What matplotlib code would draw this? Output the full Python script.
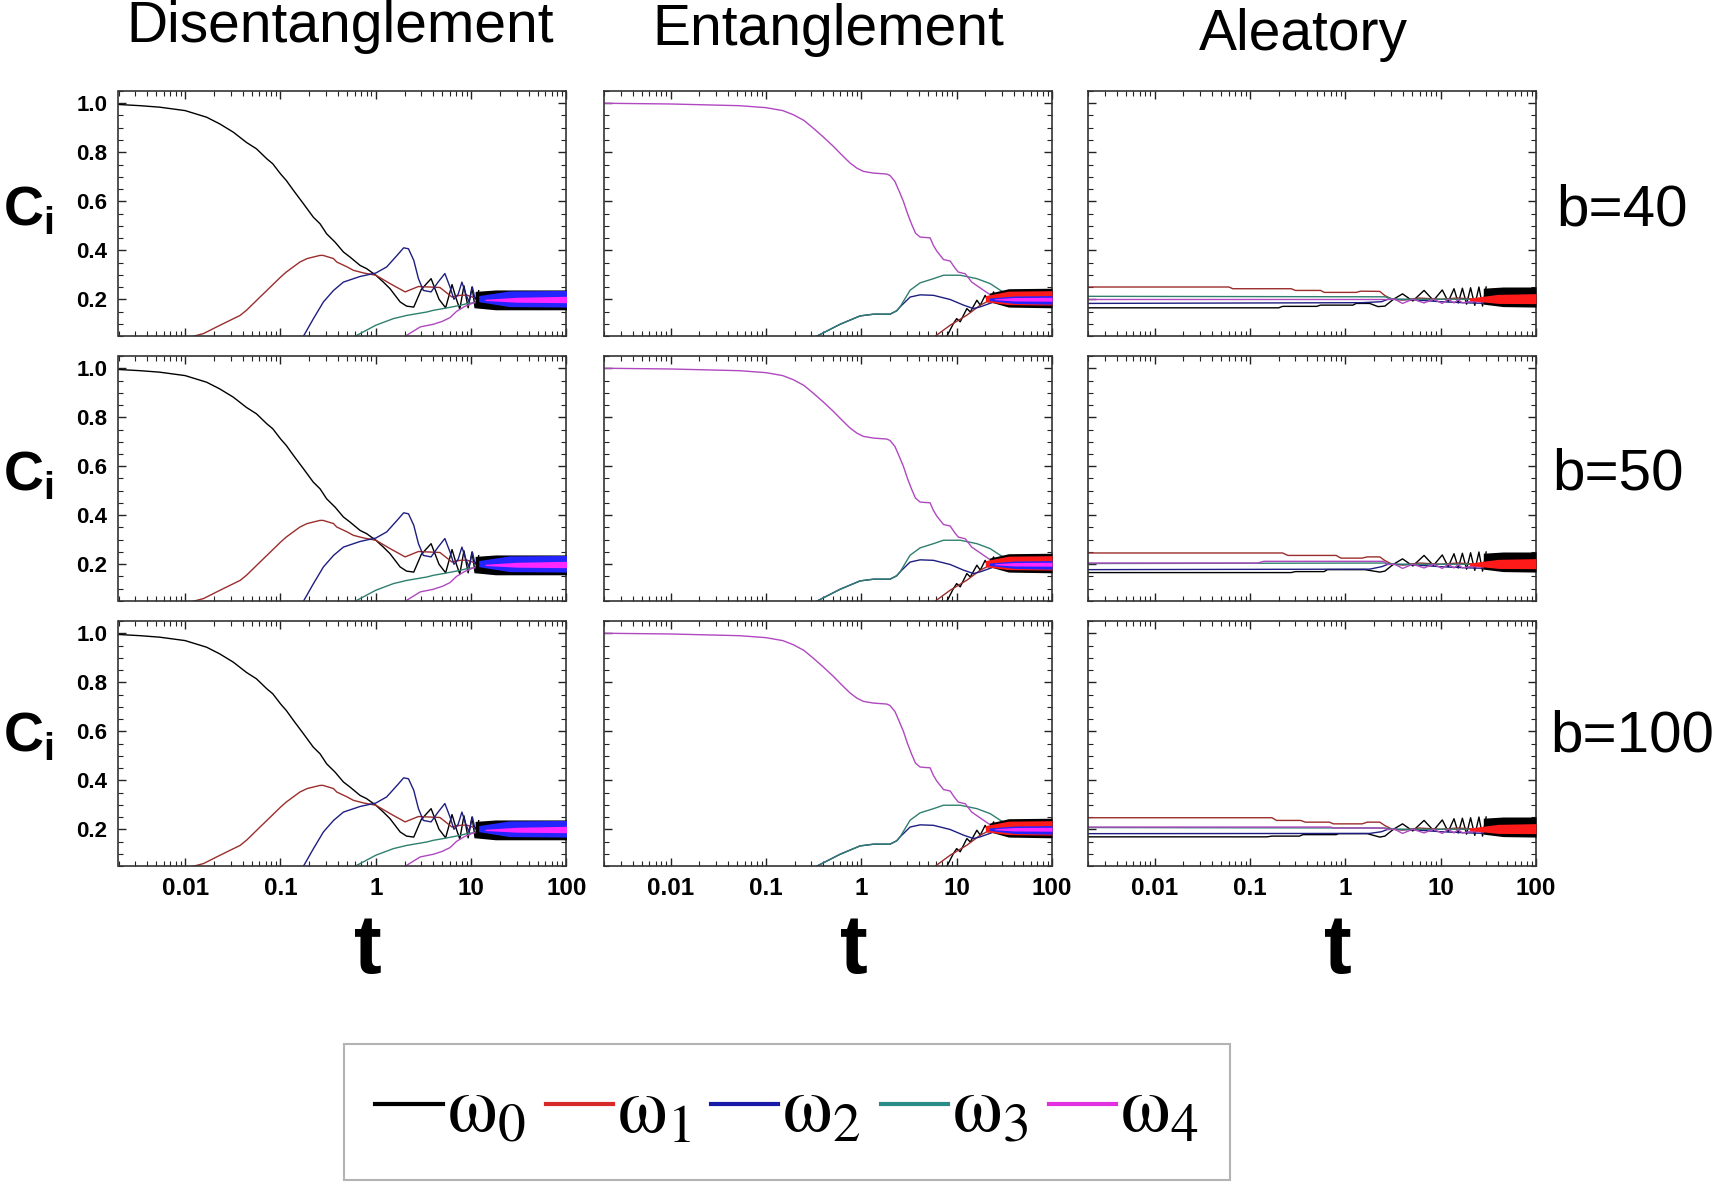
import numpy as np
import matplotlib.pyplot as plt
from matplotlib.lines import Line2D
from matplotlib.font_manager import FontProperties
from matplotlib.ticker import FixedLocator, FixedFormatter, LogLocator, MultipleLocator, NullFormatter

plt.rcParams['font.family'] = ['Liberation Sans', 'DejaVu Sans']
plt.rcParams['mathtext.fontset'] = 'custom'
plt.rcParams['mathtext.bf'] = 'Liberation Sans:bold'
plt.rcParams['mathtext.rm'] = 'Liberation Sans'

columns = ['Disentanglement', 'Entanglement', 'Aleatory']
row_labels = ['b=40', 'b=50', 'b=100']
names = [r'$\mathrm{\omega}_0$', r'$\mathrm{\omega}_1$', r'$\mathrm{\omega}_2$',
         r'$\mathrm{\omega}_3$', r'$\mathrm{\omega}_4$']
line_colors = ['#000000', '#9b2d2d', '#1e1e82', '#2f7f6f', '#b048c0']
band_colors = ['#000000', '#ff1a1a', '#2424ff', '#2f7f6f', '#ff28ff']
legend_colors = ['#000000', '#d62a2a', '#1a1aa8', '#2a8c84', '#e030e0']
xtick_vals = [0.01, 0.1, 1, 10, 100]
xtick_labels = ['0.01', '0.1', '1', '10', '100']
ytick_vals = [0.2, 0.4, 0.6, 0.8, 1.0]

# ---- Disentanglement (same for all b) ----
dis_t0 = [0.002, 0.0034, 0.0054, 0.01, 0.0168, 0.023, 0.032, 0.044, 0.056, 0.072, 0.083, 0.1,
          0.115, 0.137, 0.174, 0.221, 0.26, 0.305, 0.374, 0.457, 0.537, 0.684, 0.8, 1.0, 1.2,
          1.41, 1.6, 1.8, 2.1, 2.5, 3.0, 3.8, 4.6, 5.4, 6.3, 7.0, 7.6, 8.4, 9.3, 10.2, 11.0, 12.0]
dis_c0 = [0.995, 0.99, 0.984, 0.97, 0.943, 0.916, 0.882, 0.84, 0.814, 0.773, 0.753, 0.712,
          0.685, 0.644, 0.59, 0.535, 0.508, 0.467, 0.433, 0.393, 0.372, 0.338, 0.325, 0.298, 0.27,
          0.243, 0.215, 0.189, 0.172, 0.168, 0.24, 0.284, 0.2, 0.165, 0.26, 0.2, 0.16, 0.255,
          0.165, 0.25, 0.165, 0.235]
dis_t1 = [0.0122, 0.0156, 0.0214, 0.0272, 0.0377, 0.044, 0.061, 0.072, 0.1, 0.115, 0.16, 0.19,
          0.26, 0.28, 0.36, 0.389, 0.5, 0.582, 0.75, 1.0, 1.41, 2.03, 2.8, 3.6, 4.7, 6.3, 7.65,
          9.0, 12.0, 30, 100]
dis_c1 = [0.049, 0.06, 0.087, 0.107, 0.134, 0.155, 0.209, 0.236, 0.29, 0.311, 0.352, 0.366,
          0.379, 0.379, 0.366, 0.352, 0.332, 0.318, 0.307, 0.298, 0.264, 0.23, 0.252, 0.25,
          0.248, 0.209, 0.216, 0.217, 0.2, 0.2, 0.2]
dis_t2 = [0.174, 0.221, 0.282, 0.36, 0.457, 0.684, 1.0, 1.3, 1.67, 1.96, 2.2, 2.5, 2.8, 3.15,
          3.8, 4.5, 5.3, 6.0, 6.6, 7.3, 8.0, 8.8, 9.5, 10.3, 11.0, 12.0]
dis_c2 = [0.049, 0.12, 0.189, 0.236, 0.27, 0.293, 0.307, 0.332, 0.379, 0.41, 0.406, 0.359,
          0.284, 0.236, 0.23, 0.27, 0.305, 0.25, 0.2, 0.22, 0.27, 0.22, 0.19, 0.25, 0.2, 0.225]
dis_t3 = [0.607, 1.0, 1.53, 2.11, 3.43, 4.03, 5.12, 7.65, 9.0, 12.4, 20, 100]
dis_c3 = [0.049, 0.094, 0.121, 0.134, 0.148, 0.155, 0.162, 0.175, 0.182, 0.189, 0.195, 0.198]
dis_t4 = [2.03, 2.92, 4.02, 5.0, 6.0, 7.0, 8.5, 10.5, 14, 20, 100]
dis_c4 = [0.049, 0.087, 0.098, 0.11, 0.125, 0.15, 0.17, 0.185, 0.195, 0.2, 0.2]
dis_band_t = [[11, 18, 100], None, [12, 25, 100], None, [14, 30, 100]]
dis_band_lo = [[0.165, 0.157, 0.157], None, [0.19, 0.17, 0.168], None, [0.195, 0.188, 0.186]]
dis_band_hi = [[0.232, 0.238, 0.238], None, [0.215, 0.234, 0.236], None, [0.2, 0.208, 0.212]]

# ---- Entanglement (same for all b) ----
ent_t0 = [7.9, 9.25, 10.0, 10.9, 12.8, 13.9, 16.3, 17.7, 19.9, 21.6, 24.4, 26]
ent_c0 = [0.049, 0.101, 0.121, 0.108, 0.162, 0.148, 0.196, 0.176, 0.216, 0.189, 0.23, 0.2]
ent_t1 = [5.94, 8.55, 12.8, 17.7, 22.4, 26]
ent_c1 = [0.049, 0.094, 0.135, 0.176, 0.196, 0.2]
ent_t2 = [0.34, 0.6, 0.97, 1.34, 2.0, 2.35, 2.55, 3.25, 4.14, 5.71, 8.55, 11.8, 15, 17.7, 25, 100]
ent_c2 = [0.049, 0.098, 0.132, 0.139, 0.139, 0.153, 0.169, 0.209, 0.218, 0.216, 0.199, 0.176,
          0.162, 0.169, 0.19, 0.2]
ent_t3 = [0.34, 0.6, 0.97, 1.34, 2.0, 2.35, 2.55, 3.25, 4.14, 5.71, 7.28, 10.9, 16.3, 22.4, 28.6,
          36.4, 50, 100]
ent_c3 = [0.049, 0.098, 0.132, 0.139, 0.139, 0.153, 0.169, 0.237, 0.267, 0.284, 0.298, 0.298,
          0.284, 0.264, 0.237, 0.216, 0.205, 0.2]
ent_t4 = [0.002, 0.01, 0.053, 0.1, 0.15, 0.194, 0.25, 0.314, 0.4, 0.509, 0.62, 0.762, 0.9, 1.05,
          1.34, 1.85, 2.0, 2.25, 2.5, 2.76, 3.05, 3.38, 3.7, 4.13, 4.7, 5.26, 5.7, 6.18, 7.28,
          8.55, 9.5, 10.4, 12.3, 14.4, 19.1, 24.4, 30.7, 40, 100]
ent_c4 = [1.0, 0.997, 0.99, 0.982, 0.97, 0.953, 0.93, 0.898, 0.862, 0.824, 0.79, 0.756, 0.735,
          0.722, 0.715, 0.711, 0.705, 0.681, 0.64, 0.6, 0.55, 0.505, 0.47, 0.454, 0.452, 0.451,
          0.42, 0.397, 0.362, 0.356, 0.33, 0.311, 0.304, 0.27, 0.237, 0.209, 0.196, 0.2, 0.2]
ent_band_t = [[22, 35, 100], [20, 35, 100], [22, 40, 100], None, [25, 40, 100]]
ent_band_lo = [[0.19, 0.168, 0.165], [0.19, 0.178, 0.176], [0.195, 0.183, 0.18], None,
               [0.198, 0.193, 0.192]]
ent_band_hi = [[0.225, 0.243, 0.245], [0.215, 0.233, 0.235], [0.205, 0.213, 0.215], None,
               [0.202, 0.207, 0.208]]

# ---- Aleatory: flat starts per b, shared oscillating tails ----
ale1_t0 = [0.002, 0.2, 0.22, 0.5, 0.55, 1.2, 1.3, 1.8, 2.2]
ale1_c0 = [0.165, 0.165, 0.171, 0.171, 0.176, 0.176, 0.183, 0.183, 0.17]
ale1_t1 = [0.002, 0.06, 0.066, 0.27, 0.3, 0.55, 0.6, 1.3, 1.45, 2.3, 2.6]
ale1_c1 = [0.25, 0.25, 0.243, 0.243, 0.236, 0.236, 0.228, 0.228, 0.233, 0.232, 0.215]
ale1_t2 = [0.002, 1.5, 2.4]
ale1_c2 = [0.183, 0.186, 0.19]
ale1_t3 = [0.002, 2.6]
ale1_c3 = [0.212, 0.21]
ale1_t4 = [0.002, 2.5]
ale1_c4 = [0.199, 0.199]

ale2_t0 = [0.002, 0.27, 0.3, 0.6, 0.65, 1.6, 2.3]
ale2_c0 = [0.166, 0.166, 0.17, 0.17, 0.178, 0.178, 0.168]
ale2_t1 = [0.002, 0.22, 0.25, 0.8, 0.9, 1.5, 1.7, 2.3, 2.6]
ale2_c1 = [0.246, 0.246, 0.236, 0.236, 0.225, 0.225, 0.23, 0.23, 0.215]
ale2_t2 = [0.002, 1.8, 2.4]
ale2_c2 = [0.178, 0.18, 0.19]
ale2_t3 = [0.002, 2.6]
ale2_c3 = [0.203, 0.205]
ale2_t4 = [0.002, 0.12, 0.14, 2.5]
ale2_c4 = [0.205, 0.205, 0.212, 0.212]

ale3_t0 = [0.002, 0.15, 0.17, 0.33, 0.36, 0.8, 0.85, 1.7, 2.3]
ale3_c0 = [0.169, 0.169, 0.172, 0.172, 0.178, 0.178, 0.182, 0.182, 0.168]
ale3_t1 = [0.002, 0.17, 0.19, 0.34, 0.38, 0.68, 0.75, 1.5, 1.7, 2.3, 2.6]
ale3_c1 = [0.247, 0.247, 0.236, 0.236, 0.229, 0.229, 0.222, 0.222, 0.229, 0.229, 0.215]
ale3_t2 = [0.002, 1.8, 2.4]
ale3_c2 = [0.182, 0.183, 0.19]
ale3_t3 = [0.002, 2.6]
ale3_c3 = [0.207, 0.205]
ale3_t4 = [0.002, 0.7, 0.75, 2.5]
ale3_c4 = [0.209, 0.209, 0.205, 0.205]

ale_tail_t0 = [2.6, 3.2, 3.98, 5.1, 6.7, 8.4, 10.4, 12.0, 13.8, 15.3, 16.9, 18.7, 20.6, 22.8,
               25.2, 27.5, 30.0]
ale_tail_c0 = [0.172, 0.2, 0.222, 0.193, 0.236, 0.195, 0.238, 0.19, 0.243, 0.185, 0.245, 0.18,
               0.247, 0.175, 0.25, 0.172, 0.25]
ale_tail_t1 = [3.1, 4, 6, 10, 15, 25]
ale_tail_c1 = [0.2, 0.197, 0.205, 0.2, 0.205, 0.2]
ale_tail_t2 = [2.8, 5, 10, 20, 100]
ale_tail_c2 = [0.2, 0.198, 0.19, 0.185, 0.178]
ale_tail_t3 = [3.2, 100]
ale_tail_c3 = [0.2, 0.2]
ale_tail_t4 = [2.8, 3.3, 3.98, 5.1, 6.7, 8.4, 10.4, 12.0, 13.8, 15.3, 16.9, 20, 100]
ale_tail_c4 = [0.199, 0.2, 0.183, 0.2, 0.185, 0.2, 0.183, 0.2, 0.185, 0.198, 0.185, 0.19, 0.185]
ale_band_t = [[28, 45, 100], [20, 40, 100], None, None, None]
ale_band_lo = [[0.18, 0.17, 0.168], [0.195, 0.183, 0.182], None, None, None]
ale_band_hi = [[0.245, 0.25, 0.25], [0.205, 0.22, 0.223], None, None, None]

dis_curves = [(dis_t0, dis_c0), (dis_t1, dis_c1), (dis_t2, dis_c2), (dis_t3, dis_c3), (dis_t4, dis_c4)]
ent_curves = [(ent_t0, ent_c0), (ent_t1, ent_c1), (ent_t2, ent_c2), (ent_t3, ent_c3), (ent_t4, ent_c4)]
ale_tails = [(ale_tail_t0, ale_tail_c0), (ale_tail_t1, ale_tail_c1), (ale_tail_t2, ale_tail_c2),
             (ale_tail_t3, ale_tail_c3), (ale_tail_t4, ale_tail_c4)]
ale_heads = [
    [(ale1_t0, ale1_c0), (ale1_t1, ale1_c1), (ale1_t2, ale1_c2), (ale1_t3, ale1_c3), (ale1_t4, ale1_c4)],
    [(ale2_t0, ale2_c0), (ale2_t1, ale2_c1), (ale2_t2, ale2_c2), (ale2_t3, ale2_c3), (ale2_t4, ale2_c4)],
    [(ale3_t0, ale3_c0), (ale3_t1, ale3_c1), (ale3_t2, ale3_c2), (ale3_t3, ale3_c3), (ale3_t4, ale3_c4)],
]


def draw_panel(ax, curves, band_t, band_lo, band_hi):
    for i, (t, c) in enumerate(curves):
        ax.plot(t, c, color=line_colors[i], lw=1.0, zorder=2)
    for i in range(5):
        if band_t[i] is not None:
            ax.fill_between(band_t[i], band_lo[i], band_hi[i],
                            color=band_colors[i], lw=0, zorder=3)


W, H = 1720, 1188
fig = plt.figure(figsize=(W / 100, H / 100), dpi=100)
col_left = [118.5, 604, 1088]
row_bottom = [336, 601, 866]
ax_w, ax_h = 448, 245

for r in range(3):
    for c in range(3):
        ax = fig.add_axes([col_left[c] / W, 1 - row_bottom[r] / H, ax_w / W, ax_h / H])
        if c == 0:
            draw_panel(ax, dis_curves, dis_band_t, dis_band_lo, dis_band_hi)
        elif c == 1:
            draw_panel(ax, ent_curves, ent_band_t, ent_band_lo, ent_band_hi)
        else:
            curves = [(list(h[0]) + list(tl[0]), list(h[1]) + list(tl[1]))
                      for h, tl in zip(ale_heads[r], ale_tails)]
            draw_panel(ax, curves, ale_band_t, ale_band_lo, ale_band_hi)
        ax.set_xscale('log')
        ax.set_xlim(0.002, 100)
        ax.set_ylim(0.05, 1.05)
        ax.xaxis.set_major_locator(FixedLocator(xtick_vals))
        ax.xaxis.set_major_formatter(FixedFormatter(xtick_labels))
        ax.xaxis.set_minor_locator(LogLocator(base=10, subs=np.arange(2, 10)))
        ax.xaxis.set_minor_formatter(NullFormatter())
        ax.set_yticks(ytick_vals)
        ax.set_yticklabels(['0.2', '0.4', '0.6', '0.8', '1.0'])
        ax.yaxis.set_minor_locator(MultipleLocator(0.05))
        ax.tick_params(which='both', direction='in', top=True, right=True, color='#222222')
        ax.tick_params(which='major', length=6, width=1.0)
        ax.tick_params(which='minor', length=3.5, width=0.8)
        ax.tick_params(axis='y', labelsize=16, pad=8)
        ax.tick_params(axis='x', labelsize=17.5, pad=8)
        for lab in ax.get_xticklabels() + ax.get_yticklabels():
            lab.set_fontweight('bold')
        if c != 0:
            ax.tick_params(axis='y', labelleft=False)
        if r != 2:
            ax.tick_params(axis='x', labelbottom=False)
        for s in ax.spines.values():
            s.set_linewidth(1.2)
            s.set_color('#333333')
        if r == 2:
            fig.text((col_left[c] + 0.557 * ax_w) / W, 1 - 973 / H, 't', ha='center', va='baseline',
                     fontsize=60, fontweight='bold')

title_x = [340, 828, 1303]
title_y = [42, 45, 50]
for c in range(3):
    fig.text(title_x[c] / W, 1 - title_y[c] / H, columns[c], ha='center', va='baseline', fontsize=41)

ci_base = [225, 490, 751]
b_x = [1556, 1552, 1550]
for r in range(3):
    fig.text(3 / W, 1 - ci_base[r] / H, r'$\mathbf{C}_{\mathbf{i}}$', ha='left', va='baseline',
             fontsize=40)
    fig.text(b_x[r] / W, 1 - ci_base[r] / H, row_labels[r], ha='left', va='baseline', fontsize=42)

handles = [Line2D([], [], color=col, lw=3) for col in legend_colors]
leg = fig.legend(handles, names, ncol=5, loc='center', bbox_to_anchor=(787 / W, 1 - 1112 / H),
                 frameon=True, fancybox=False, edgecolor='#a0a0a0', handlelength=0.85,
                 handletextpad=0.05, columnspacing=0.25, borderpad=0.4,
                 prop=FontProperties(family='Liberation Serif', size=57, math_fontfamily='stix'))
leg.get_frame().set_linewidth(1.5)

fig.savefig('out.png', dpi=100)
